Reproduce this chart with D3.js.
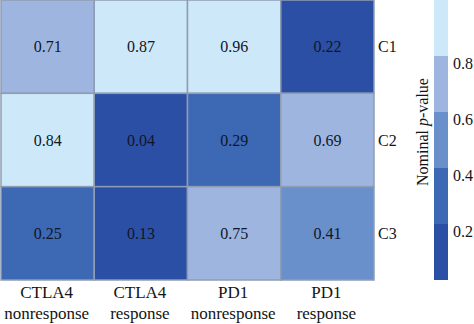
<!DOCTYPE html>
<html>
<head>
<meta charset="utf-8">
<script src="https://cdn.jsdelivr.net/npm/d3@7"></script>
<style>
  html, body { margin: 0; padding: 0; background: #fff; }
  svg { display: block; }
</style>
</head>
<body>
<svg id="chart" width="474" height="324"></svg>
<script>
// ---- data ----
const columns = ["CTLA4\nnonresponse", "CTLA4\nresponse", "PD1\nnonresponse", "PD1\nresponse"];
const rows = ["C1", "C2", "C3"];
const pC1 = [0.71, 0.87, 0.96, 0.22];
const pC2 = [0.84, 0.04, 0.29, 0.69];
const pC3 = [0.25, 0.13, 0.75, 0.41];
const seriesValues = [pC1, pC2, pC3];
const legendTicks = [0.2, 0.4, 0.6, 0.8];
const legendBreaks = [0, 0.2, 0.4, 0.6, 0.8, 1.0];
const cellThresholds = [0.225, 0.4, 0.6, 0.8];
const palette = ["#2c4fa6", "#3c68b4", "#6a90cb", "#9eb6df", "#cde9f9"];
const legendTitle = "Nominal ";

const FONT = "'Liberation Serif', 'Times New Roman', Times, 'DejaVu Serif', serif";

// ---- layout ----
const svg = d3.select("#chart").attr("font-family", FONT);
const gx0 = 1, gx1 = 374, gy0 = 0, gy1 = 280;

const x = d3.scaleBand().domain(d3.range(columns.length)).range([gx0, gx1]).padding(0);
const y = d3.scaleBand().domain(rows).range([gy0, gy1]).padding(0);
const color = d3.scaleThreshold().domain(cellThresholds).range(palette);

const cells = [];
rows.forEach((r, i) => seriesValues[i].forEach((v, j) => cells.push({ r, c: j, v })));

const g = svg.append("g");
g.selectAll("rect.cell").data(cells).join("rect")
  .attr("class", "cell")
  .attr("x", d => x(d.c))
  .attr("y", d => y(d.r))
  .attr("width", x.bandwidth())
  .attr("height", y.bandwidth())
  .attr("fill", d => color(d.v))
  .attr("stroke", "#8e9db3")
  .attr("stroke-width", 1.5);

g.selectAll("text.val").data(cells).join("text")
  .attr("class", "val")
  .attr("font-family", FONT)
  .attr("x", d => x(d.c) + x.bandwidth() / 2)
  .attr("y", d => y(d.r) + y.bandwidth() / 2)
  .attr("text-anchor", "middle")
  .attr("dy", "0.35em")
  .attr("font-size", 16)
  .attr("fill", "#10162a")
  .text(d => d.v.toFixed(2));

// row labels
svg.selectAll("text.row").data(rows).join("text")
  .attr("class", "row")
  .attr("font-family", FONT)
  .attr("fill", "#141414")
  .attr("x", 378)
  .attr("y", d => y(d) + y.bandwidth() / 2)
  .attr("dy", "0.36em")
  .attr("font-size", 16)
  .text(d => d);

// column labels
const colLab = svg.selectAll("text.col").data(columns).join("text")
  .attr("class", "col")
  .attr("font-family", FONT)
  .attr("fill", "#141414")
  .attr("text-anchor", "middle")
  .attr("font-size", 17);
colLab.each(function(d, j) {
  const parts = d.split("\n");
  const t = d3.select(this);
  parts.forEach((p, k) => {
    t.append("tspan")
      .attr("x", x(j) + x.bandwidth() / 2 - 1)
      .attr("y", 298 + k * 21)
      .text(p);
  });
});

// ---- colour bar ----
const cb = d3.scaleLinear().domain([0, 1]).range([gy1, gy0]);
const cbX = 434, cbW = 14;
const bands = d3.pairs(legendBreaks);
svg.selectAll("rect.cb").data(bands).join("rect")
  .attr("class", "cb")
  .attr("x", cbX)
  .attr("y", d => cb(d[1]))
  .attr("width", cbW)
  .attr("height", d => cb(d[0]) - cb(d[1]))
  .attr("fill", (d, i) => palette[i]);

svg.selectAll("text.cbt").data(legendTicks).join("text")
  .attr("class", "cbt")
  .attr("font-family", FONT)
  .attr("fill", "#141414")
  .attr("x", cbX + cbW + 5)
  .attr("y", d => cb(d) + 7)
  .attr("dy", "0.35em")
  .attr("font-size", 16)
  .text(d => d.toFixed(1));

const title = svg.append("text")
  .attr("font-family", FONT)
  .attr("fill", "#141414")
  .attr("transform", `translate(428, 132) rotate(-90)`)
  .attr("text-anchor", "middle")
  .attr("font-size", 16);
title.append("tspan").text(legendTitle);
title.append("tspan").attr("font-style", "italic").text("p");
title.append("tspan").text("-value");
</script>
</body>
</html>
